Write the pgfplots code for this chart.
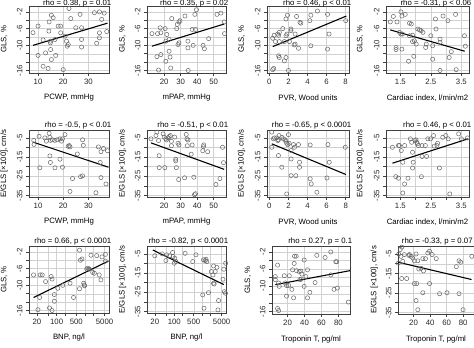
\documentclass[border=0pt]{standalone}
\usepackage{fontspec}
\setmainfont{Liberation Sans}
\usepackage{pgfplots}
\pgfplotsset{compat=1.18}
\newcommand{\fsz}{\fontsize{7.8}{9}\selectfont}
\pgfplotsset{
 rpanel/.style={
  scale only axis, height=67pt,
  axis line style={black!75, line width=0.5pt},
  tick style={black!75, line width=0.5pt},
  tick align=outside, major tick length=3pt,
  xtick pos=lower, ytick pos=left,
  grid=major, major grid style={black!18, line width=0.4pt},
  minor tick num=0,
  every tick label/.append style={font=\fsz, text=black!85},
  yticklabel style={rotate=90, anchor=south},
  every axis x label/.style={at={(axis description cs:0.5,-0.37)}, anchor=center, font=\fsz},
  every axis y label/.style={at={(axis description cs:-0.31,0.5)}, anchor=center, rotate=90, font=\fsz},
  /pgf/number format/assume math mode=true,
  clip=false,
 },
 rt/.style={after end axis/.append code={\node[anchor=base east, inner sep=0pt, font=\fsz] at (rel axis cs:1.03,1.03) {#1};}},
 rtr/.style={after end axis/.append code={\node[anchor=base east, inner sep=0pt, font=\fsz] at (rel axis cs:0.985,1.03) {#1};}},
 rtt/.style={after end axis/.append code={\node[anchor=base east, inner sep=0pt, font=\fsz] at (rel axis cs:1.03,1.0) {#1};}},
 gls/.style={ymin=-16.6, ymax=-0.6, ytick={-16,-14,...,-2}, yticklabels={-16,,,-10,,-6,,-2}, ylabel={GLS, \%}},
 egls/.style={ymin=-35.8, ymax=-0.9, ytick={-35,-30,...,-5}, yticklabels={-35,,-25,,-15,,-5}, ylabel={E/GLS [×100], cm/s}},
 pcwp/.style={xmin=6.4, xmax=38.2, xtick={10,20,30}, xlabel={PCWP, mmHg}},
 mpap/.style={xmin=9.6, xmax=57.5, xtick={20,30,40,50}, xlabel={mPAP, mmHg}},
 pvr/.style={xmin=-0.25, xmax=8.35, xtick={0,2,4,6,8}, xlabel={PVR, Wood units}},
 ci/.style={xmin=1.03, xmax=3.75, xtick={1.5,2,2.5,3,3.5}, xticklabels={1.5,,2.5,,3.5}, xlabel={Cardiac index, l/min/m2}},
 bnp/.style={xmin=10.5, xmax=7200, xtick={20,50,100,200,500,1000,2000,5000}, xticklabels={20,,100,,500,,,5000}, xlabel={BNP, ng/l}},
 trop/.style={xmin=1.6, xmax=93.7, xtick={20,40,60,80}, xlabel={Troponin T, pg/ml}},
 pts/.style={only marks, mark=o, mark size=2.1pt, black!60, mark options={line width=0.5pt}},
 reg/.style={black, line width=1.1pt, no marks},
}
\begin{document}
\begin{tikzpicture}
\useasboundingbox (0,0) rectangle (474pt,348pt);
% ---------------- Row 1 ----------------
\begin{axis}[rpanel, gls, pcwp, width=80pt, at={(29pt,275pt)}, anchor=south west, rtt={rho = 0.38, p = 0.01}]
\addplot[pts] coordinates {(8,-6.96)(10,-5.4)(15.3,-2.8)(16,-3.4)(14.4,-4.4)(14.3,-6.6)(18,-5.4)(19,-5.4)(19,-7)(22.3,-1.2)(23,-3.6)(26.7,-2.6)(25,-5.8)(27.3,-5.8)(32.4,-2.2)(34.4,-2)(36.3,-2.3)(35.3,-3.8)(37.3,-6.7)(34.4,-7)(34.4,-8.2)(33.3,-9.5)(12,-8.7)(14.9,-9.4)(14.9,-9)(16.7,-8.6)(20.7,-7.8)(21.3,-9)(22,-9.8)(21.6,-10.2)(27.3,-8.6)(27.3,-10.4)(10,-12.4)(13,-11.8)(15,-11)(15.3,-13.4)(17,-12.4)(12,-15)(14,-15.5)(20,-15.8)};
\addplot[reg] coordinates {(8,-10)(37.6,-4.7)};
\end{axis}
\begin{axis}[rpanel, gls, mpap, width=79pt, at={(147pt,275pt)}, anchor=south west, rtt={rho = 0.35, p = 0.02}]
\addplot[pts] coordinates {(12.6,-7.2)(16,-7.2)(17.6,-5.8)(18,-7)(20.6,-6)(21.6,-7.4)(21,-9)(23,-8.6)(24.6,-3.6)(28,-5)(29,-4.4)(29.6,-4.1)(27.6,-6)(32.6,-3)(39.6,-1.5)(38.6,-2.6)(37,-6.2)(39,-6.2)(52,-2.6)(54.4,-2.3)(56.4,-4.4)(56.6,-7.2)(29,-9.4)(28.4,-9.8)(34.4,-9)(37.6,-10)(34.4,-10.6)(43.6,-10)(44.4,-10.8)(47,-8.4)(15.6,-12.7)(18,-12.2)(21,-13.8)(23,-11.4)(23.6,-12.8)(24,-15.4)(16.6,-15.9)(34.6,-16)};
\addplot[reg] coordinates {(12.6,-10.2)(56.4,-4.9)};
\end{axis}
\begin{axis}[rpanel, gls, pvr, width=82pt, at={(267pt,275pt)}, anchor=south west, rtt={rho = 0.46, p < 0.01}]
\addplot[pts] coordinates {(0.35,-8.3)(0.5,-7.6)(0.87,-7.3)(1.04,-6.9)(0.97,-7.6)(1.4,-6)(1.74,-3.7)(1.9,-2.8)(1.84,-7.3)(1.74,-7.7)(2.26,-6.1)(2.26,-6.5)(2.7,-7.3)(2.85,-3.1)(3.2,-4.5)(3.3,-4.7)(4.24,-4.1)(4.35,-2.8)(5.04,-1.8)(6.1,-2.6)(8,-4.1)(6.26,-7.3)(6.1,-10.9)(4.35,-10.1)(3.06,-10.7)(2.6,-9.9)(2.7,-9.7)(0.63,-9.1)(1.04,-9.1)(1.57,-9.1)(2.1,-9.1)(0.97,-12.5)(1.04,-12.9)(1.74,-12.9)(1.57,-13.7)(0.45,-15.5)(0.35,-15.8)(2,-16)};
\addplot[reg] coordinates {(0.35,-10.3)(8.07,-3)};
\end{axis}
\begin{axis}[rpanel, gls, ci, width=83pt, at={(386pt,275pt)}, anchor=south west, rtt={rho = -0.31, p < 0.06}]
\addplot[pts] coordinates {(1.17,-4.4)(1.27,-3.1)(1.39,-4.4)(1.52,-2)(1.55,-3)(1.66,-2.6)(1.47,-6.9)(1.52,-7.3)(1.57,-7.3)(1.55,-10.9)(1.36,-10.5)(1.36,-11)(1.8,-4.7)(1.86,-4.9)(1.8,-7.7)(1.9,-7.6)(1.96,-8.9)(1.9,-9.1)(2.07,-6.1)(2.18,-6.5)(2.13,-6.3)(2.24,-6.9)(2.02,-9.7)(1.94,-12.6)(1.77,-13.8)(2.35,-9.7)(2.33,-10.5)(2.65,-3.7)(2.67,-6.1)(2.5,-7.7)(2.56,-10.1)(2.56,-13.3)(2.8,-9.3)(2.8,-8.5)(2.9,-3)(3.06,-4.1)(3.31,-2.6)(3.6,-7.7)(3.17,-11.5)(3.1,-12.9)(2.8,-16)(3.33,-15.8)(3.63,-10.2)};
\addplot[reg] coordinates {(1.17,-6.3)(3.61,-11.4)};
\end{axis}
% ---------------- Row 2 ----------------
\begin{axis}[rpanel, egls, pcwp, width=80pt, at={(29pt,151pt)}, anchor=south west, rt={rho = -0.5, p < 0.01}]
\addplot[pts] coordinates {(8.3,-6.3)(8.4,-8.4)(10.4,-4.2)(10.7,-20.6)(12.7,-5)(13.3,-6.7)(14.4,-2.6)(14.7,-4.7)(14.9,-6.3)(15.7,-6)(16.7,-6.3)(17.6,-6)(18.7,-5.5)(19.7,-5.5)(20.7,-3.3)(19.3,-6.7)(14.7,-14.4)(14.9,-17.8)(16.7,-20.6)(18.7,-16.1)(19.7,-20.3)(22,-9.4)(22.4,-9)(22.7,-9.7)(27.7,-6)(28,-8.9)(25.6,-13.4)(23.7,-26.2)(26.9,-25.2)(27.7,-24.8)(22.7,-32.9)(34,-9.7)(36,-10.5)(35,-12.2)(37.6,-11.7)(34.7,-17.8)(35,-25.7)(37,-29)(33,-33.6)};
\addplot[reg] coordinates {(8,-7.2)(38,-20.3)};
\end{axis}
\begin{axis}[rpanel, egls, mpap, width=79pt, at={(147pt,151pt)}, anchor=south west, rt={rho = -0.51, p < 0.01}]
\addplot[pts] coordinates {(12,-5.5)(15,-3.8)(15.6,-2)(16.6,-6.4)(17,-14.3)(17,-20.5)(19.4,-2.9)(20,-4.6)(21,-5.5)(21.4,-6.1)(22.4,-5)(23,-4.3)(23.8,-3.8)(20.4,-20.5)(24.4,-6.8)(26.4,-4.6)(24.4,-9.1)(27,-16.1)(27,-17)(27.4,-20.5)(28.4,-7.8)(29,-8.7)(28.8,-26.7)(32.4,-25.8)(33.4,-3.2)(33.8,-5.5)(34,-9.1)(34.4,-6.1)(37,-8.7)(36.4,-13.5)(38,-25.5)(38.4,-34.6)(39,-34.1)(43.4,-11.7)(43.8,-9.6)(44,-8.7)(46.4,-12.2)(55.4,-9.9)(56,-17.9)(51.4,-29.3)(53.8,-26.2)};
\addplot[reg] coordinates {(12,-7.6)(56.4,-21.4)};
\end{axis}
\begin{axis}[rpanel, egls, pvr, width=82pt, at={(267pt,151pt)}, anchor=south west, rt={rho = -0.65, p < 0.0001}]
\addplot[pts] coordinates {(0.25,-2)(0.25,-9.9)(0.42,-5.5)(0.53,-5)(0.77,-5)(0.88,-6.4)(0.95,-6)(1.02,-3.8)(1.3,-4.7)(1.47,-5.5)(1.65,-6)(1.72,-6.7)(1.82,-7.8)(1.93,-8.5)(2,-3.3)(2.07,-7.8)(0.95,-14.2)(1.3,-20.3)(1.82,-34.2)(2.28,-11.6)(2.28,-16)(2.28,-24.7)(2.53,-8.5)(2.63,-9.9)(2.77,-24.7)(3.05,-8.5)(3.16,-17.7)(3.16,-20.3)(4.28,-8.7)(4.28,-26.3)(4.39,-29)(4.98,-33.3)(6.14,-8.5)(6.04,-25.9)(6.28,-17.7)(7.96,-9.9)};
\addplot[reg] coordinates {(0.25,-8.1)(8.03,-24.1)};
\end{axis}
\begin{axis}[rpanel, egls, ci, width=83pt, at={(386pt,151pt)}, anchor=south west, rt={rho = 0.46, p < 0.01}]
\addplot[pts] coordinates {(1.24,-9.9)(1.44,-9)(1.47,-9)(1.64,-9)(1.53,-11.6)(1.58,-17.7)(1.35,-25.2)(1.44,-26)(1.64,-29)(1.58,-33.7)(1.75,-26)(1.83,-5.5)(1.87,-7.3)(1.9,-20.7)(1.92,-17.7)(1.98,-6.4)(2.01,-6)(2.04,-7.3)(2.06,-8.1)(2.09,-9)(1.9,-12.5)(2.21,-9)(2.21,-14.7)(2.19,-25.2)(2.32,-9)(2.36,-14.7)(2.4,-5.5)(2.49,-5.5)(2.59,-3.8)(2.61,-9.3)(2.7,-9)(2.72,-7.8)(2.78,-20.7)(2.89,-4.7)(2.99,-3.8)(3.07,-5.5)(3.41,-2.9)(3.5,-5.5)(3.7,-5)(3.12,-34.2)};
\addplot[reg] coordinates {(1.24,-18.2)(3.72,-5.5)};
\end{axis}
% ---------------- Row 3 ----------------
\begin{semilogxaxis}[rpanel, gls, bnp, width=80pt, at={(29pt,35pt)}, anchor=south west, rt={rho = 0.66, p < 0.0001}]
\addplot[pts] coordinates {(15.2,-7.5)(26.2,-7.5)(31,-7.5)(25,-12.9)(40.6,-9.1)(21.8,-15.8)(64,-7.9)(69,-8.5)(83,-12.2)(83,-13.8)(56,-15.4)(69,-16)(110,-10.7)(165,-10)(300,-9.5)(398,-12.9)(650,-1.6)(695,-4)(790,-3.7)(650,-10.8)(910,-9.5)(955,-9.9)(980,-10.1)(1170,-6.1)(1260,-5.9)(1375,-6.1)(1445,-6.1)(1650,-2.8)(2630,-2.9)(2190,-7.1)(3240,-7.5)(3720,-8.7)(4070,-3.2)(5370,-2.6)(5370,-4.2)(1900,-6.9)};
\addplot[reg] coordinates {(15.2,-12.9)(6900,-4.2)};
\end{semilogxaxis}
\begin{semilogxaxis}[rpanel, egls, bnp, width=79pt, at={(147pt,35pt)}, anchor=south west, rt={rho = -0.82, p < 0.0001}]
\addplot[pts] coordinates {(20,-6)(37,-5)(53,-5.5)(50,-8.5)(69,-6)(87,-4.3)(91,-6.4)(105,-7.3)(100,-9.9)(115,-9)(245,-4.7)(460,-9)(600,-5.5)(1120,-8.1)(1290,-8.5)(1380,-7.8)(1470,-9)(1050,-26.4)(1170,-33.3)(1690,-25.2)(2140,-14.2)(2450,-16)(2570,-20.3)(2700,-20.7)(2950,-14.2)(3390,-12)(3700,-34.2)(3900,-29.3)(5600,-18.2)(6300,-24.7)(6900,-25.5)(7000,-9.9)(6000,-13)(2570,-11.3)};
\addplot[reg] coordinates {(17,-3)(6000,-21)};
\end{semilogxaxis}
\begin{axis}[rpanel, gls, trop, width=78pt, height=68pt, at={(272pt,34pt)}, anchor=south west, rt={rho = 0.27, p = 0.1}]
\addplot[pts] coordinates {(5.5,-7.8)(5.5,-8.5)(8.2,-5.1)(9.4,-9.3)(10.2,-10.1)(16.1,-7.6)(17.3,-9.3)(18.8,-9.9)(21.2,-9.9)(22,-7.6)(25.1,-10.8)(18.8,-12.4)(27.1,-12.8)(28.2,-3)(30.2,-3)(27.8,-4.7)(25.9,-6.2)(30.6,-6.4)(33.7,-6.6)(35.7,-6.5)(36.9,-7.2)(34.5,-8.5)(36.1,-8.4)(39.6,-3.9)(39.6,-10.1)(41.6,-7.8)(43.5,-6.2)(46.3,-11.5)(43.5,-12.8)(52.5,-9.2)(54.5,-2.8)(64.3,-3.3)(71,-2)(76.9,-4.3)(78,-4.3)(71,-7.4)(74.9,-10.8)(78.8,-10.5)(91.8,-13.8)(8.2,-15.3)(9.4,-15.8)};
\addplot[reg] coordinates {(5.5,-9.7)(93.7,-6.4)};
\end{axis}
\begin{axis}[rpanel, egls, trop, xmin=1.2, xmax=93, width=76pt, height=68pt, at={(398pt,34pt)}, anchor=south west, rtr={rho = -0.33, p = 0.07}]
\addplot[pts] coordinates {(1.5,-9.7)(2,-5)(4,-2.7)(5.7,-1.5)(4.9,-6.2)(6.9,-8.8)(5.7,-17.6)(11.7,-17.6)(8.9,-5.3)(14.2,-5.7)(15,-5.3)(17,-6.2)(19,-7.1)(21,-8.5)(23,-5)(25.1,-8.5)(21,-20.2)(23.9,-20.2)(23,-28.9)(25.1,-33.6)(26.3,-12.7)(29.1,-12.3)(32,-13.7)(31.2,-7.4)(34.4,-7.4)(37.2,-4.5)(39.3,-3.6)(42.5,-5.3)(39.3,-20.2)(31.2,-24.9)(47.4,-7.4)(51.4,-25.4)(60.3,-24.9)(71.7,-11.5)(74.9,-8.5)(76.9,-9.2)(79.8,-33.6)(74.9,-25.4)(90.3,-6.2)};
\addplot[reg] coordinates {(1.2,-9.2)(90,-18.1)};
\end{axis}
\end{tikzpicture}
\end{document}
